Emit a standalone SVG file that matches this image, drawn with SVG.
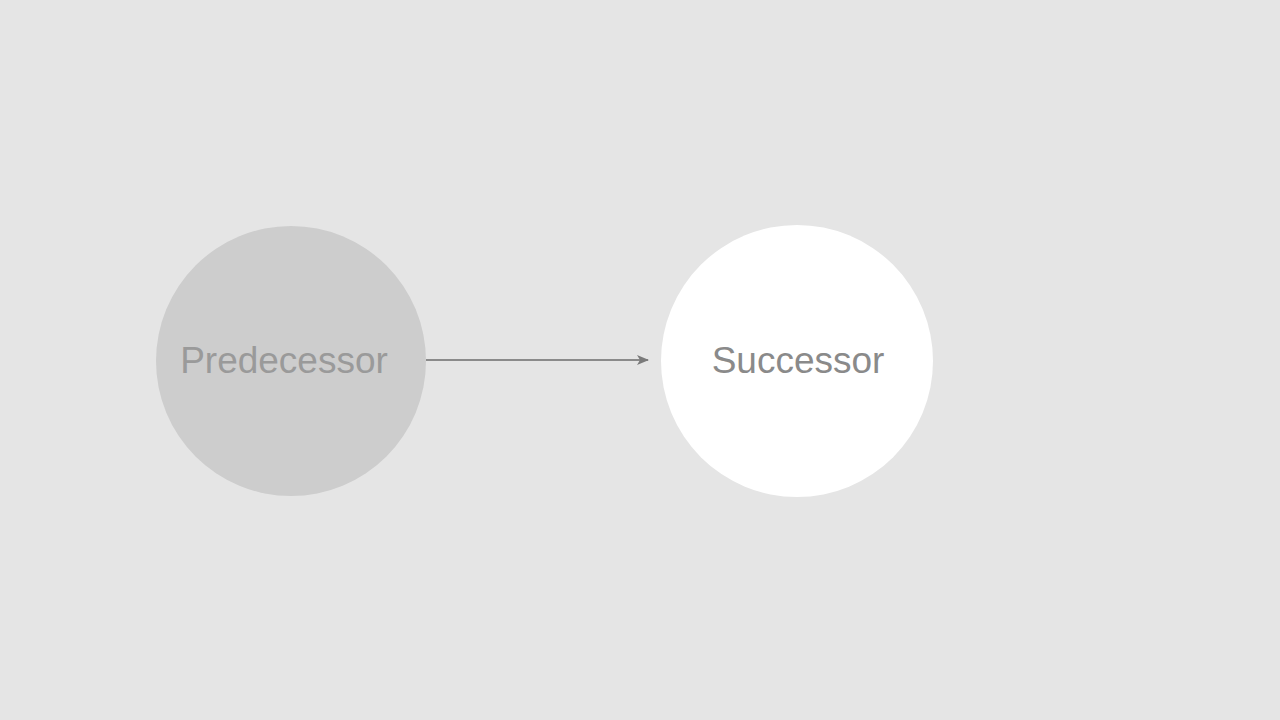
<svg xmlns="http://www.w3.org/2000/svg" width="1280" height="720" viewBox="0 0 1280 720">
<defs>
<style>
.lbl{font-family:"Liberation Sans",Arial,sans-serif;font-size:37px;text-anchor:middle}
</style>
<marker id="arr" markerWidth="12" markerHeight="10" refX="11" refY="5" orient="auto" markerUnits="userSpaceOnUse">
<path d="M0,0 L12,5 L0,10 L3,5 Z" fill="#7a7a7a"/>
</marker>
</defs>
<rect width="1280" height="720" fill="#e5e5e5"/>
<g id="connectors">
<line x1="426" y1="360" x2="648" y2="360" stroke="#8a8a8a" stroke-width="2" marker-end="url(#arr)"/>
</g>
<g id="predecessor">
<circle cx="291" cy="361" r="135" fill="#cdcdcd"/>
<text class="lbl" x="284" y="373" fill="#9a9a9a">Predecessor</text>
</g>
<g id="successor">
<circle cx="797" cy="361" r="136" fill="#ffffff"/>
<text class="lbl" x="798" y="373" fill="#8a8a8a">Successor</text>
</g>
</svg>
